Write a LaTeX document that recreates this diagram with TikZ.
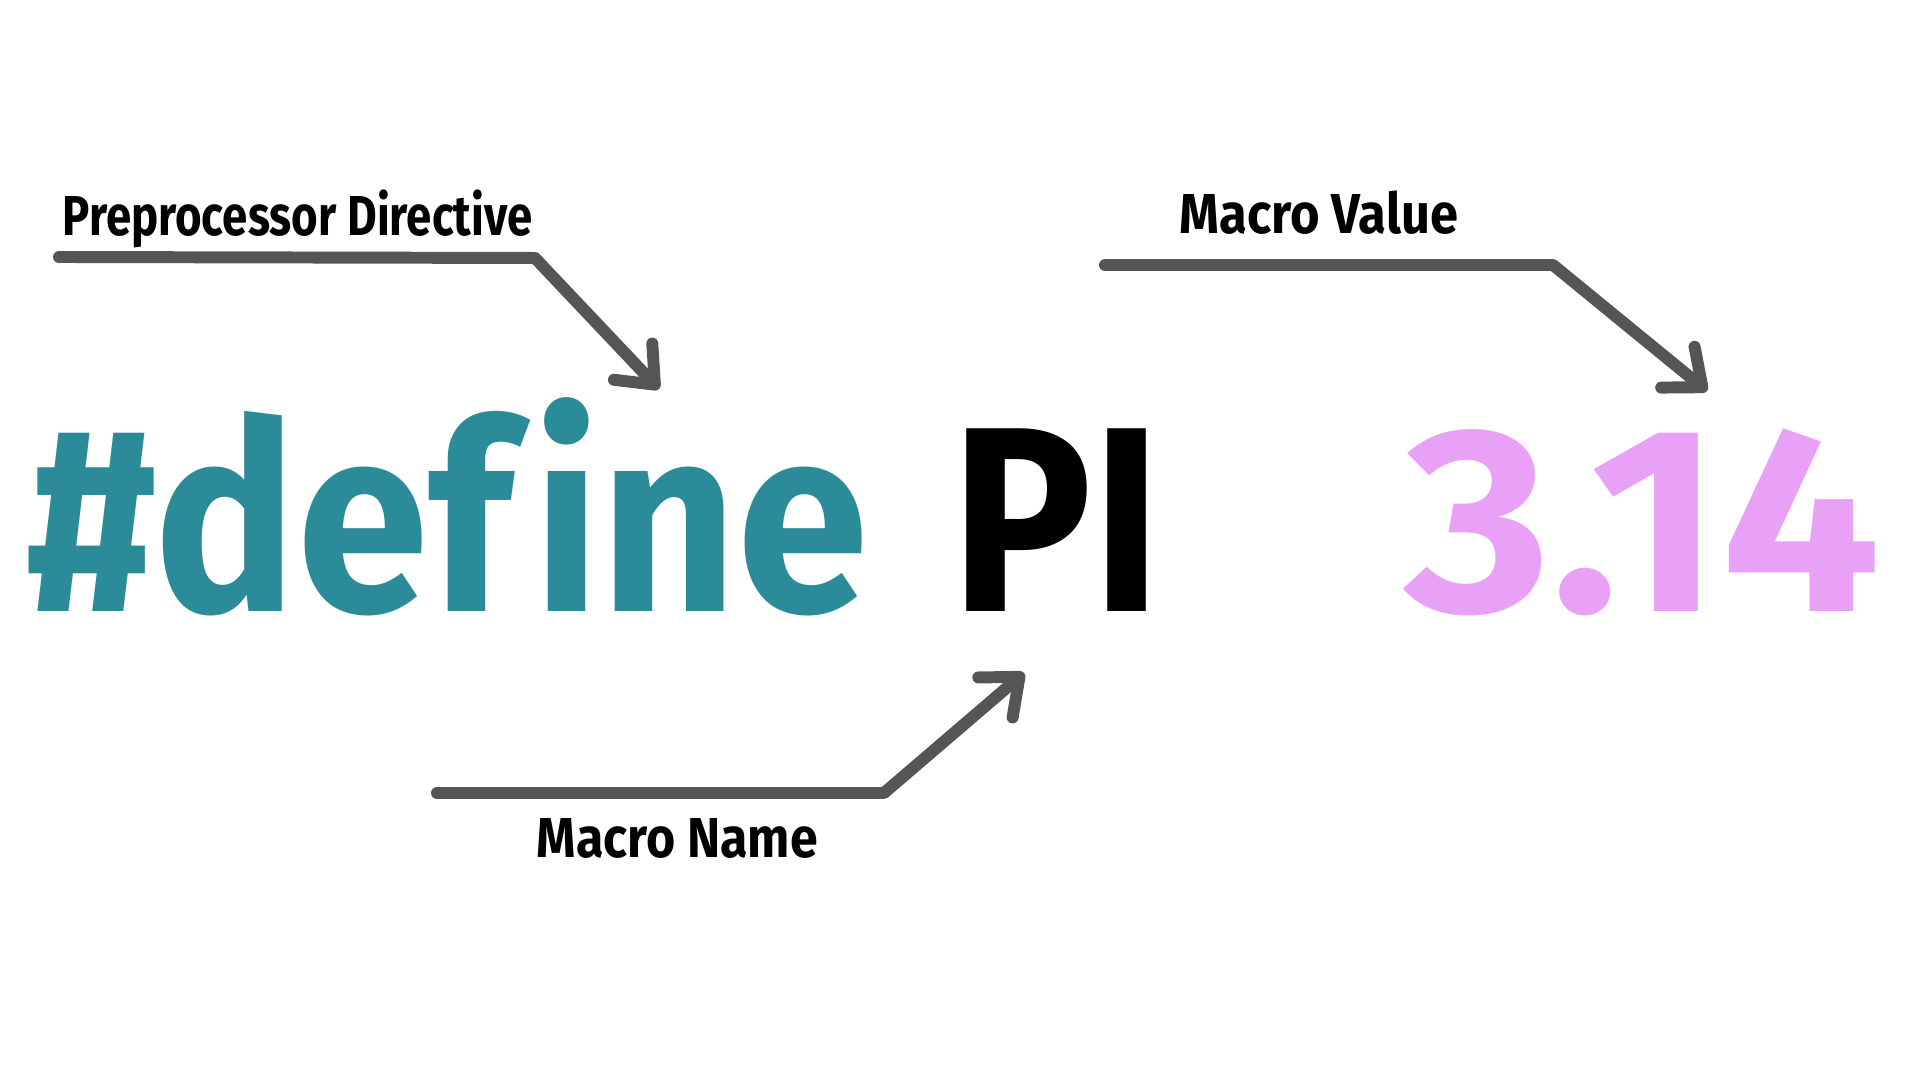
\documentclass[tikz,border=0pt]{standalone}
\usepackage{fontspec}
\setmainfont{Fira Sans}[Ligatures=NoCommon]
\usetikzlibrary{arrows.meta}
\definecolor{arrowgray}{rgb}{0.333,0.333,0.333}
\definecolor{tealdef}{RGB}{44,139,153}
\definecolor{pinkval}{RGB}{233,160,247}
\tikzset{
  labeltext/.style={anchor=base west,inner sep=0pt,font=\fontsize{16}{18}\selectfont\bfseries},
  codetext/.style={anchor=base west,inner sep=0pt,font=\fontsize{75}{80}\selectfont\bfseries},
  pointer/.style={->,line width=3.4pt,color=arrowgray}
}
\begin{document}
\begin{tikzpicture}[line cap=round,line join=round,>={Straight Barb[length=9pt,width=15pt,line cap=round,line join=round]},x=0.01cm,y=-0.01cm]
\useasboundingbox (0,0) rectangle (1920,1080);
% the code line
\node[codetext,text=tealdef] (define) at (25,612) {\scalebox{0.9}[1]{\#def\kern0.09em ine}};
\node[codetext,text=black] (pi) at (951,612) {\scalebox{0.89}[1]{PI}};
\node[codetext,text=pinkval] (value) at (1404,612) {\scalebox{1.07}[1]{3.14}};
% labels
\node[labeltext] (directive) at (62,236) {\scalebox{0.81}[1]{Preprocessor Directive}};
\node[labeltext] (valuelabel) at (1179,234) {\scalebox{0.9}[1]{Macro Value}};
\node[labeltext] (namelabel) at (536,858) {\scalebox{0.89}[1]{Macro Name}};
% pointers
\coordinate (dstart) at (59,257);
\coordinate (dbend) at (535,258);
\coordinate (dtip) at (659,389);
\coordinate (vstart) at (1105,265);
\coordinate (vbend) at (1553,265);
\coordinate (vtip) at (1707,391);
\coordinate (nstart) at (437,793);
\coordinate (nbend) at (884,793);
\coordinate (ntip) at (1024,673);
\draw [pointer] (dstart) -- (dbend) -- (dtip);
\draw [pointer] (vstart) -- (vbend) -- (vtip);
\draw [pointer] (nstart) -- (nbend) -- (ntip);
\end{tikzpicture}
\end{document}
